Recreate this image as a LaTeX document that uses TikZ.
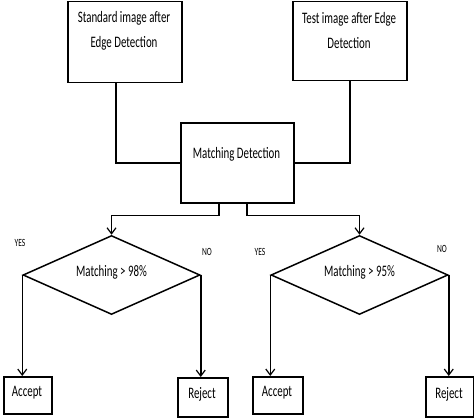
\documentclass[tikz,border=0pt]{standalone}
\usepackage{fontspec}
\setmainfont{Carlito}
\usepackage{graphicx}
\usetikzlibrary{shapes.geometric,arrows.meta}
\newcommand\nar[1]{\scalebox{0.68}[1]{#1}}
\tikzset{
  boxnode/.style={draw, line width=1.5pt, inner sep=0pt, anchor=north west},
  txt/.style={font=\fontsize{16}{25}\selectfont, align=center, inner sep=0pt},
  small/.style={font=\fontsize{11}{12}\selectfont, inner sep=0pt},
  dia/.style={draw, diamond, line width=1.5pt, inner sep=0pt, minimum width=177pt, minimum height=79pt},
  conn/.style={line width=1.5pt},
  arr/.style={line width=1.5pt, -{Straight Barb[length=6pt,width=9pt,line width=1.2pt]}}
}
\begin{document}
\begin{tikzpicture}[x=1pt,y=-1pt]
\useasboundingbox (0,0) rectangle (474,420);
% top boxes
\node[boxnode, minimum width=114pt, minimum height=81pt] (sa) at (67,1) {};
\node[txt] (sat) at (124,31) {\nar{Standard image after}\\\nar{Edge Detection}};
\node[boxnode, minimum width=114pt, minimum height=79pt] (ta) at (292,1) {};
\node[txt] (tat) at (349,31) {\nar{Test image after Edge}\\\nar{Detection}};
% matching box
\node[boxnode, minimum width=113pt, minimum height=80pt] (md) at (180,122) {};
\node[txt] (mdt) at (236.5,154) {\nar{Matching Detection}};
% diamonds
\node[dia] (dl) at (111.5,275) {};
\node[txt] (dlt) at (111.5,272) {\nar{Matching > 98\%}};
\node[dia] (dr) at (359.5,275) {};
\node[txt] (drt) at (359.5,272) {\nar{Matching > 95\%}};
% result boxes
\node[boxnode, minimum width=48pt, minimum height=37pt] (al) at (3,376) {};
\node[txt] (alt) at (27,393) {\nar{Accept}};
\node[boxnode, minimum width=50pt, minimum height=39pt] (rl) at (177,377) {};
\node[txt] (rlt) at (202,394) {\nar{Reject}};
\node[boxnode, minimum width=50pt, minimum height=37pt] (ar) at (252,376) {};
\node[txt] (art) at (277,393) {\nar{Accept}};
\node[boxnode, minimum width=48pt, minimum height=40pt] (rr) at (425,376) {};
\node[txt] (rrt) at (449,394) {\nar{Reject}};
% labels
\node[small] (y1) at (20,243) {\nar{YES}};
\node[small] (n1) at (207,252) {\nar{NO}};
\node[small] (y2) at (260,252) {\nar{YES}};
\node[small] (n2) at (442,249) {\nar{NO}};
% connectors
\draw[conn] ([xshift=-9pt]sa.south) |- (md.west);
\draw[conn] (ta.south) |- (md.east);
\draw[arr] ([xshift=-18.5pt]md.south) -- ++(0,12) -| (dl.north);
\draw[arr] ([xshift=9.5pt]md.south) -- ++(0,12) -| (dr.north);
\draw[arr] (dl.west) -- (dl.west |- al.north);
\draw[arr] (dl.east) -- (dl.east |- rl.north);
\draw[arr] (dr.west) -- (dr.west |- ar.north);
\draw[arr] (dr.east) -- (dr.east |- rr.north);
\end{tikzpicture}
\end{document}
